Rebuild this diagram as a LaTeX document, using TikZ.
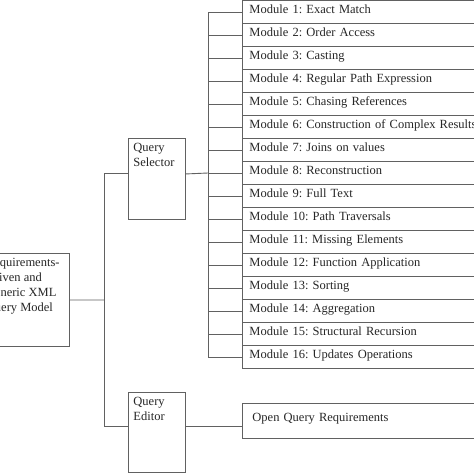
\documentclass[tikz,border=0pt]{standalone}
\usepackage{fontspec}
\setmainfont{Liberation Serif}
\definecolor{linegray}{gray}{0.38}
\frenchspacing
\begin{document}
\begin{tikzpicture}[x=1pt, y=-1pt, line width=0.9pt,
    every node/.style={font=\fontsize{12.5}{15}\selectfont, text=black!85},
    wire/.style={draw=linegray},
    modbox/.style={draw=linegray, rectangle, anchor=north west, minimum height=23pt, text width=250pt,
                   inner xsep=7pt, inner ysep=0pt, align=left, text height=9pt, text depth=5pt},
    qbox/.style={draw=linegray, rectangle, anchor=north west, minimum width=57pt, inner sep=0pt},
    qtext/.style={anchor=north west, align=left, inner sep=5pt}]
    \useasboundingbox (0,0) rectangle (474,474);
    \clip (0,0) rectangle (474,474);

    % left part
    \node[qbox, minimum width=88.5pt, minimum height=93pt,
          label={[qtext]north west:Requirements-\\Driven and\\Generic XML\\Query Model}] (root) at (-19.5,253) {};
    \node[qbox, minimum height=81pt, label={[qtext]north west:Query\\Selector}] (sel) at (128,138) {};
    \node[qbox, minimum height=80pt, label={[qtext]north west:Query\\Editor}] (ed) at (128,392) {};
    \coordinate (split) at (104,300);
    \coordinate (bus) at (208,173);

    % modules
    \node[modbox] (m1) at (242,0) {Module 1: Exact Match};
    \node[modbox] (m2) at (242,23) {Module 2: Order Access};
    \node[modbox] (m3) at (242,46) {Module 3: Casting};
    \node[modbox] (m4) at (242,69) {Module 4: Regular Path Expression};
    \node[modbox] (m5) at (242,92) {Module 5: Chasing References};
    \node[modbox] (m6) at (242,115) {Module 6: Construction of Complex Results};
    \node[modbox] (m7) at (242,138) {Module 7: Joins on values};
    \node[modbox] (m8) at (242,161) {Module 8: Reconstruction};
    \node[modbox] (m9) at (242,184) {Module 9: Full Text};
    \node[modbox] (m10) at (242,207) {Module 10: Path Traversals};
    \node[modbox] (m11) at (242,230) {Module 11: Missing Elements};
    \node[modbox] (m12) at (242,253) {Module 12: Function Application};
    \node[modbox] (m13) at (242,276) {Module 13: Sorting};
    \node[modbox] (m14) at (242,299) {Module 14: Aggregation};
    \node[modbox] (m15) at (242,322) {Module 15: Structural Recursion};
    \node[modbox] (m16) at (242,345) {Module 16: Updates Operations};
    \node[modbox, minimum height=35pt, inner xsep=10pt, text depth=7.6pt] (oq) at (242,403) {Open Query Requirements};

    \draw[wire] (root.east) -- (split);
    \draw[wire] (split) |- ([yshift=5.5pt]sel.west);
    \draw[wire] (split) |- ([yshift=6pt]ed.west);
    \draw[wire] ([yshift=5pt]sel.east) -- (bus);
    \draw[wire] ([yshift=6pt]ed.east) -- ([yshift=6pt]ed.east -| oq.west);
    \draw[wire] (bus) |- (m1.west);
    \draw[wire] (bus) |- (m2.west);
    \draw[wire] (bus) |- (m3.west);
    \draw[wire] (bus) |- (m4.west);
    \draw[wire] (bus) |- (m5.west);
    \draw[wire] (bus) |- (m6.west);
    \draw[wire] (bus) |- (m7.west);
    \draw[wire] (bus) |- (m8.west);
    \draw[wire] (bus) |- (m9.west);
    \draw[wire] (bus) |- (m10.west);
    \draw[wire] (bus) |- (m11.west);
    \draw[wire] (bus) |- (m12.west);
    \draw[wire] (bus) |- (m13.west);
    \draw[wire] (bus) |- (m14.west);
    \draw[wire] (bus) |- (m15.west);
    \draw[wire] (bus) |- (m16.west);
\end{tikzpicture}
\end{document}
